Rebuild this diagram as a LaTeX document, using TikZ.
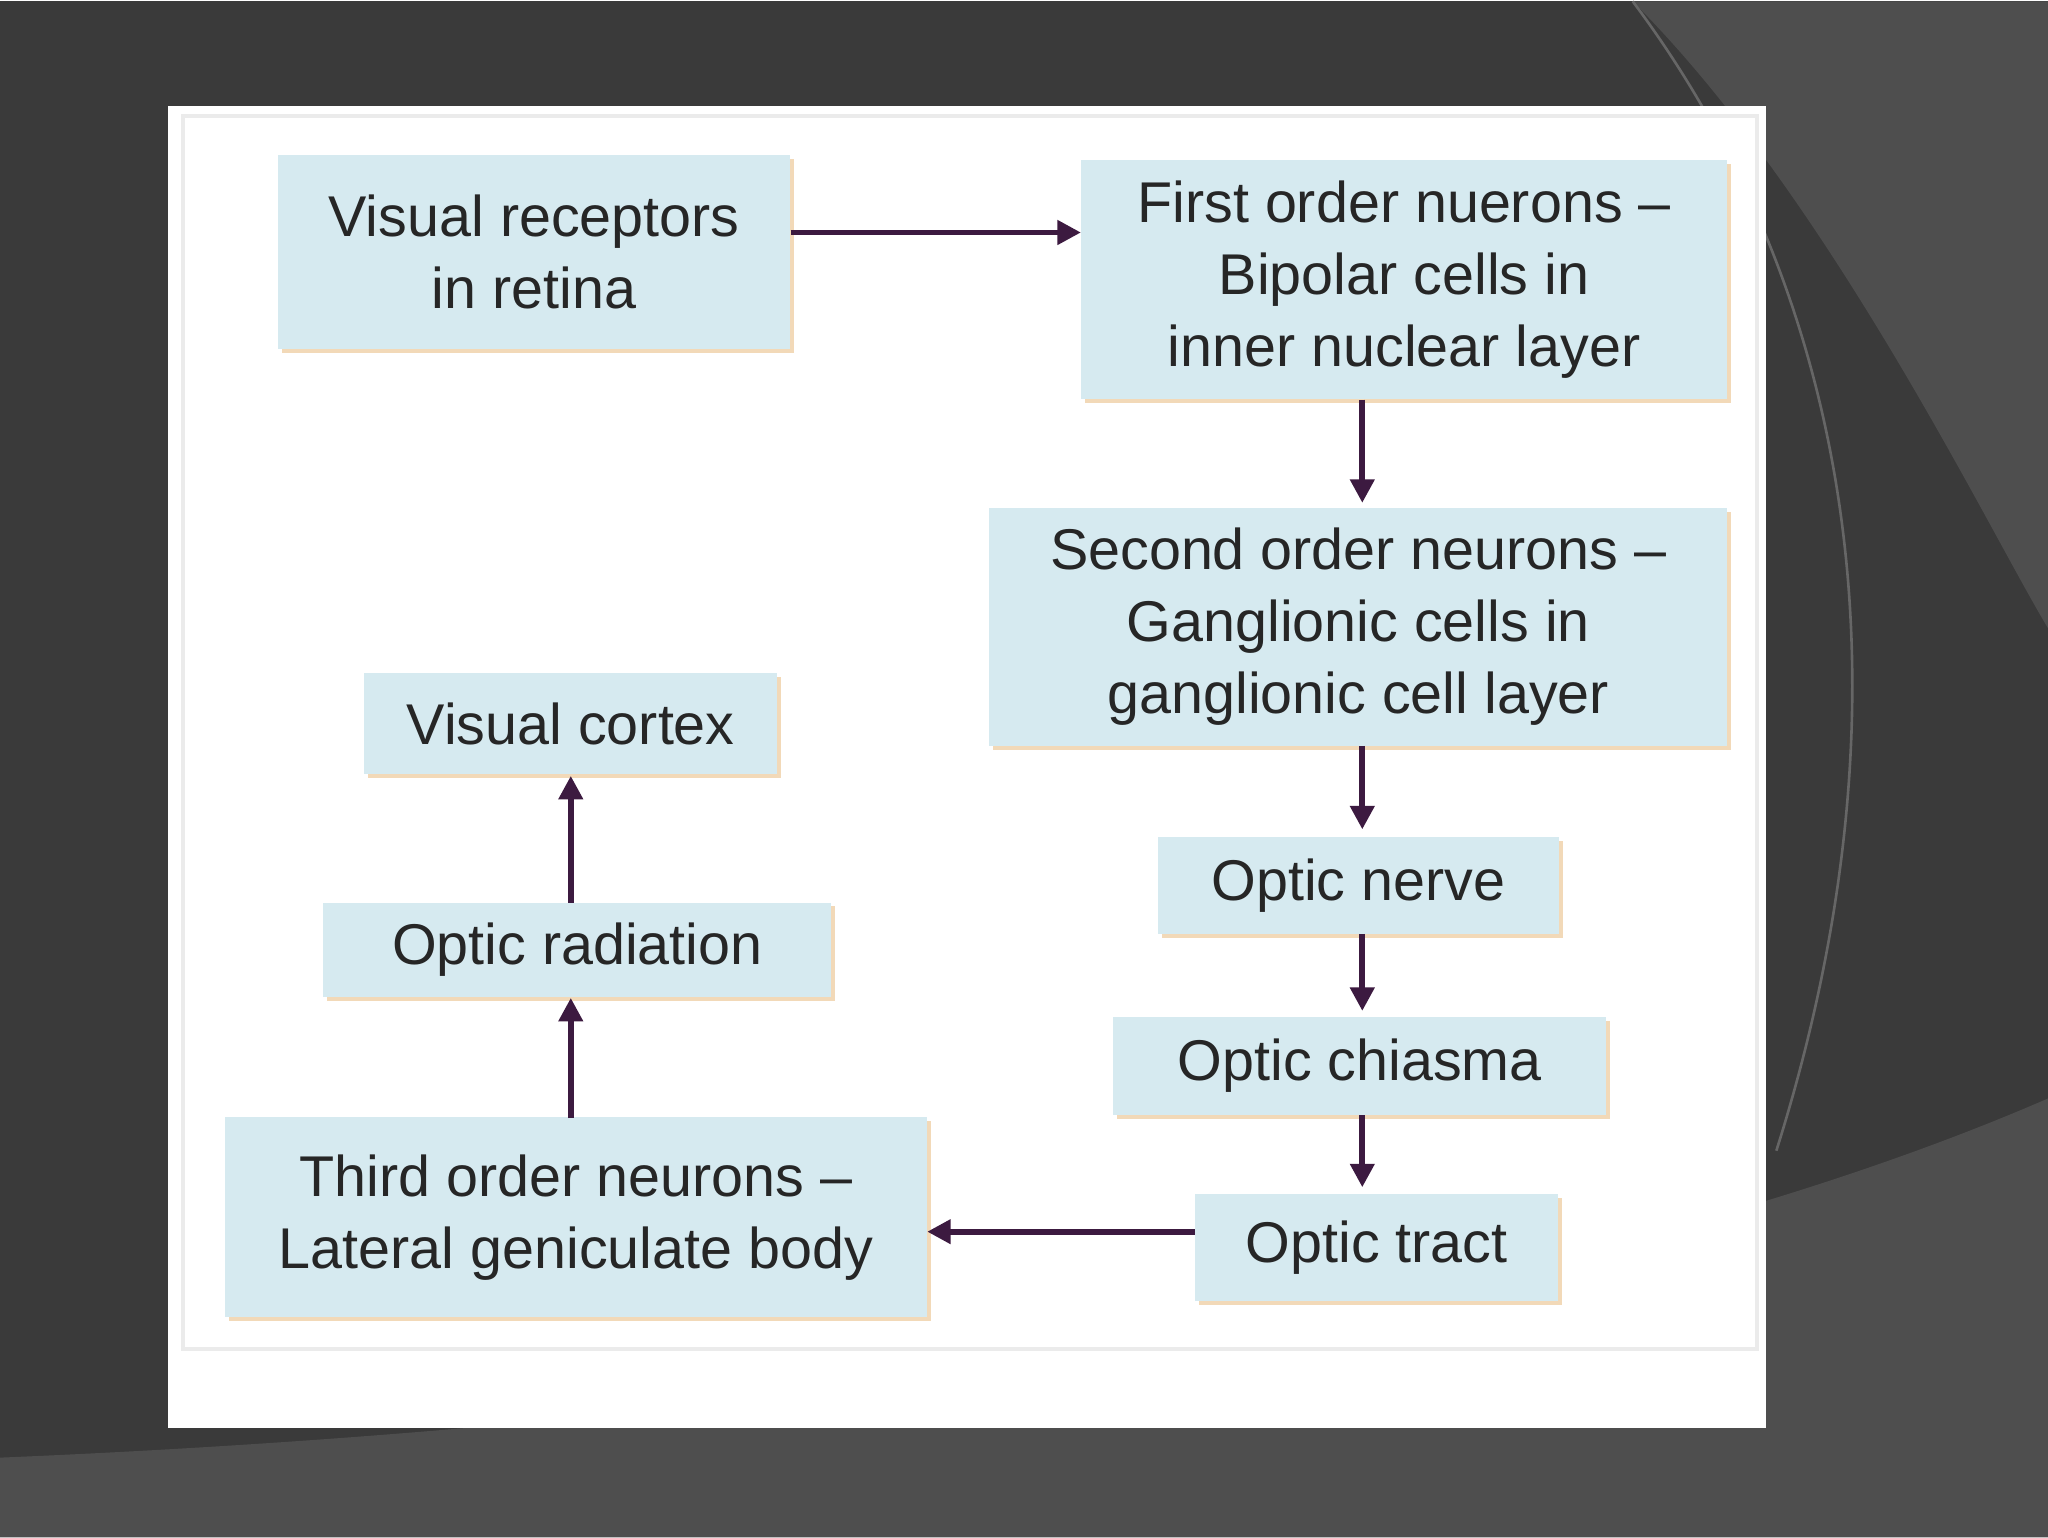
\documentclass[tikz,border=0pt]{standalone}
\usepackage{fontspec}
\setmainfont{Liberation Sans}
\usetikzlibrary{arrows.meta}
\definecolor{bg}{HTML}{3A3A3A}
\definecolor{bg2}{HTML}{4E4E4E}
\definecolor{boxc}{HTML}{D6EAF0}
\definecolor{shad}{HTML}{F2D9B8}
\definecolor{arr}{HTML}{3C1A40}
\tikzset{
 box/.style={fill=boxc, align=center, inner sep=0pt, text=black!85,
   font=\fontsize{22}{27.5}\selectfont,
   preaction={fill=shad, transform canvas={shift={(1.5pt,-1.5pt)}}}},
 arw/.style={draw=arr, line width=2.2pt, -{Triangle[length=9pt,width=9pt]}}
}
\begin{document}
\begin{tikzpicture}[x=0.5pt,y=-0.5pt]
\fill[bg] (0,0) rectangle (1568,1176);
\fill[bg2] (0,1115) .. controls (600,1090) and (1200,1000) .. (1568,840) -- (1568,1176) -- (0,1176) -- cycle;
\fill[bg2] (1250,0) .. controls (1400,150) and (1520,400) .. (1568,480) -- (1568,0) -- cycle;
\draw[black!60, line width=1pt] (1250,0) .. controls (1400,200) and (1480,500) .. (1360,880);
\fill[white] (129,80) rectangle (1352,1092);
\draw[black!8, line width=1.5pt] (140,88) rectangle (1345,1032);
\node[box, minimum width=196pt, minimum height=74.5pt] (vr) at (409,192) {Visual receptors\\in retina};
\node[box, minimum width=247pt, minimum height=91.5pt] (fo) at (1075,213) {First order nuerons –\\Bipolar cells in\\inner nuclear layer};
\node[box, minimum width=282.5pt, minimum height=91pt] (so) at (1040,479) {Second order neurons –\\Ganglionic cells in\\ganglionic cell layer};
\node[box, minimum width=153.5pt, minimum height=37pt] (on) at (1040,677) {Optic nerve};
\node[box, minimum width=188.5pt, minimum height=37.5pt] (oc) at (1041,815) {Optic chiasma};
\node[box, minimum width=139pt, minimum height=41pt] (ot) at (1054,954) {Optic tract};
\node[box, minimum width=268.5pt, minimum height=76.5pt] (to) at (441,931) {Third order neurons –\\Lateral geniculate body};
\node[box, minimum width=194.5pt, minimum height=36pt] (or) at (442,726) {Optic radiation};
\node[box, minimum width=158pt, minimum height=38.5pt] (vc) at (437,553) {Visual cortex};
\draw[arw] (vr.east |- 0,177) -- (fo.west |- 0,177);
\draw[arw] (1043,305) -- (1043,384);
\draw[arw] (1043,570) -- (1043,634);
\draw[arw] (1043,714) -- (1043,773);
\draw[arw] (1043,853) -- (1043,908);
\draw[arw] (ot.west |- 0,942) -- (to.east |- 0,942);
\draw[arw] (437,855) -- (437,763);
\draw[arw] (437,690) -- (437,593);
\end{tikzpicture}
\end{document}
